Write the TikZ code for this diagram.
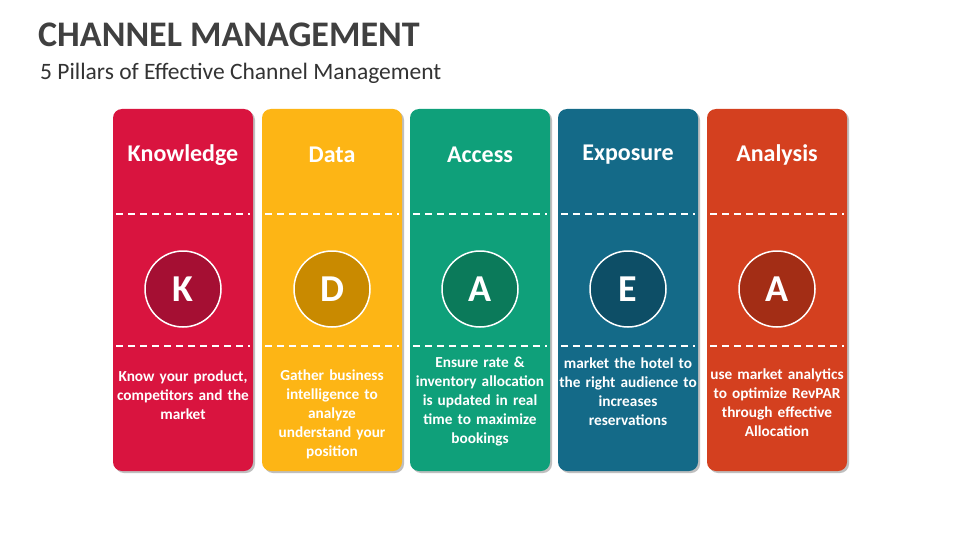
\documentclass[tikz,border=0pt]{standalone}
\usepackage{fontspec}
\setmainfont{Carlito}
\begin{document}
\begin{tikzpicture}[x=1pt,y=-1pt,
  card/.style={rounded corners=9pt,draw=none},
  dashline/.style={white,line width=1.2pt,dash pattern=on 7pt off 5pt},
  badge/.style={circle,draw=white,line width=1.5pt,minimum size=76pt,inner sep=0pt,text=white,font=\bfseries\fontsize{38}{38}\selectfont},
  head/.style={text=white,font=\bfseries\fontsize{24}{24}\selectfont},
  body/.style={text=white,align=center,font=\bfseries\fontsize{15.3}{19}\selectfont,text width=140pt}]
\useasboundingbox (0,0) rectangle (960,540);
\fill[white] (0,0) rectangle (960,540);
\node[anchor=west,text=black!75,font=\bfseries\fontsize{36}{36}\selectfont,inner sep=0] (t) at (38,35) {CHANNEL MANAGEMENT};
\node[anchor=west,text=black!80,font=\fontsize{23.5}{23.5}\selectfont,inner sep=0] (s) at (40,73) {5 Pillars of Effective Channel Management};
\definecolor{c1}{HTML}{D9143F}\definecolor{d1}{HTML}{A50F33}
\definecolor{c2}{HTML}{FDB515}\definecolor{d2}{HTML}{C98A00}
\definecolor{c3}{HTML}{0FA07A}\definecolor{d3}{HTML}{0B7A5A}
\definecolor{c4}{HTML}{146A88}\definecolor{d4}{HTML}{0D4E66}
\definecolor{c5}{HTML}{D4401F}\definecolor{d5}{HTML}{A32D15}
\foreach \i/\x/\y/\h/\l/\b in {1/113/395/Knowledge/K/{Know your product,\\competitors and the\\market},
  2/262/414/Data/D/{Gather business\\intelligence to\\analyze\\understand your\\position},
  3/410/402/Access/A/{Ensure rate \&\\inventory allocation\\is updated in real\\time to maximize\\bookings},
  4/558/392/Exposure/E/{market the hotel to\\the right audience to\\increases\\reservations},
  5/707/403/Analysis/A/{use market analytics\\to optimize RevPAR\\through effective\\Allocation}}{
  \fill[black!25,rounded corners=9pt] (\x+2,111) rectangle ++(140,362);
  \fill[c\i,card] (\x,109) rectangle ++(140,362);
  \draw[dashline] (\x+3,214) -- ++(134,0);
  \draw[dashline] (\x+3,346) -- ++(134,0);
  \node[head] (h\i) at (\x+70,155) {\h};
  \node[badge,fill=d\i] (k\i) at (\x+70,289) {\l};
  \node[body] (b\i) at (\x+70,\y) {\b};
}
\end{tikzpicture}
\end{document}
